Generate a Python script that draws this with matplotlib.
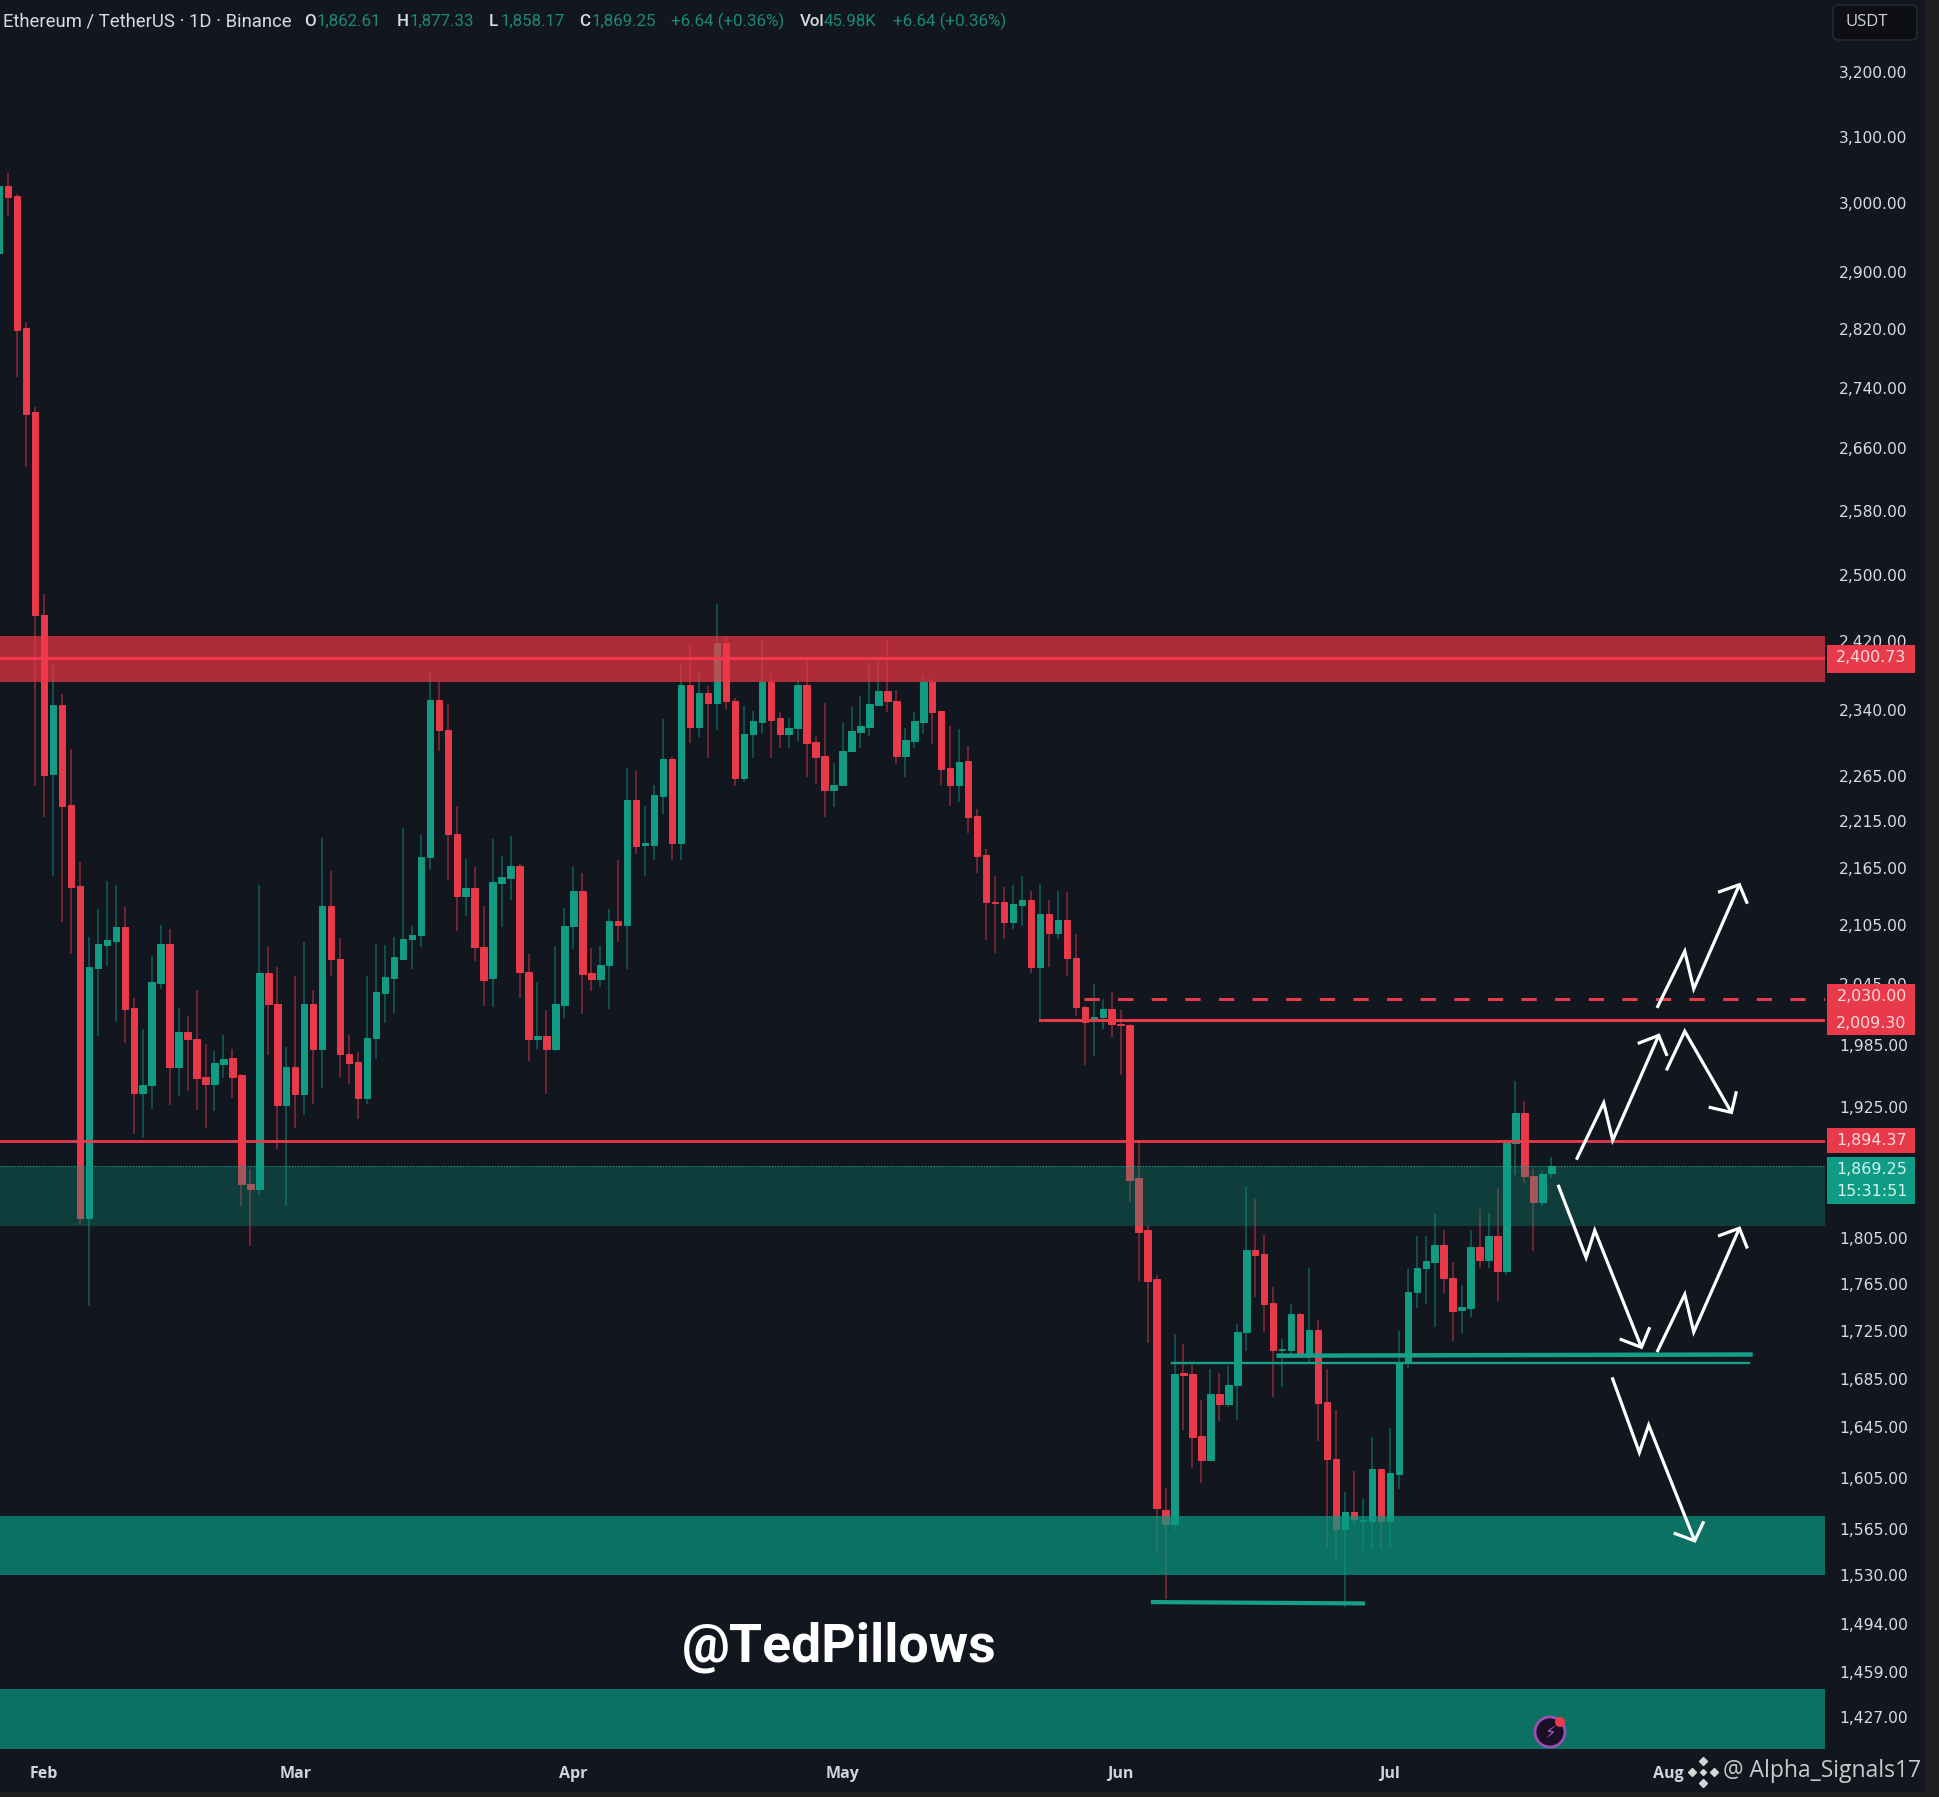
"""ETH/USDT daily candles with supply/demand zones and scenario arrows."""

import matplotlib
matplotlib.use('Agg')
import matplotlib.pyplot as plt
from matplotlib.patches import Rectangle, FancyBboxPatch, Circle
from matplotlib.transforms import ScaledTranslation

W, H = 1940, 1797
BG = '#12161f'
RED = '#e93a4b'
GREEN = '#129c84'

# daily candles, index 5 is Feb 1
opens = [2926, 3024, 3009, 2820, 2706, 2450, 2266, 2344, 2232, 2145, 1822, 2060, 2083, 2087, 2102, 2020, 1937, 1945, 2045, 2084,
         1962, 1996, 1989, 1953, 1946, 1965, 1971, 1955, 1853, 1848, 2055, 2024, 1926, 1962, 1936, 2024, 1980, 2124, 2069, 1975,
         1967, 1933, 1990, 2035, 2050, 2069, 2090, 2094, 2175, 2350, 2315, 2200, 2134, 2142, 2081, 2050, 2148, 2153, 2166, 2056,
         1989, 1992, 1980, 2023, 2103, 2139, 2055, 2049, 2063, 2108, 2104, 2237, 2188, 2188, 2241, 2282, 2190, 2367, 2319, 2358,
         2346, 2416, 2349, 2261, 2311, 2324, 2371, 2329, 2311, 2317, 2367, 2302, 2286, 2248, 2254, 2292, 2313, 2319, 2344, 2360,
         2349, 2286, 2303, 2324, 2370, 2337, 2272, 2254, 2280, 2220, 2178, 2128, 2128, 2107, 2125, 2130, 2061, 2115, 2096, 2109,
         2070, 2021, 2007, 2011, 2019, 2004, 2003, 1858, 1811, 1768, 1579, 1568, 1689, 1688, 1637, 1618, 1671, 1663, 1679, 1723,
         1794, 1790, 1748, 1708, 1708, 1738, 1704, 1725, 1665, 1619, 1564, 1577, 1570, 1570, 1611, 1570, 1607, 1698, 1757, 1778,
         1783, 1798, 1769, 1742, 1743, 1796, 1785, 1806, 1775, 1890, 1918, 1860, 1836, 1862.61]
highs = [3040, 3043, 3012, 2828, 2713, 2475, 2390, 2356, 2294, 2170, 2092, 2120, 2150, 2146, 2123, 2030, 1999, 2072, 2104, 2100,
         2020, 2012, 2038, 1985, 1978, 1993, 1980, 1956, 1866, 2146, 2081, 2061, 1982, 2052, 2086, 2038, 2196, 2160, 2091, 1993,
         1977, 2052, 2084, 2083, 2092, 2206, 2103, 2199, 2381, 2370, 2345, 2230, 2173, 2165, 2124, 2195, 2176, 2198, 2168, 2074,
         2046, 2018, 2082, 2122, 2165, 2158, 2080, 2082, 2120, 2172, 2272, 2269, 2231, 2254, 2328, 2285, 2393, 2414, 2382, 2366,
         2463, 2424, 2352, 2343, 2337, 2420, 2380, 2336, 2329, 2373, 2401, 2309, 2346, 2278, 2323, 2342, 2354, 2393, 2395, 2420,
         2361, 2318, 2336, 2380, 2374, 2337, 2320, 2316, 2297, 2227, 2184, 2155, 2144, 2146, 2155, 2139, 2147, 2130, 2139, 2138,
         2095, 2022, 2044, 2029, 2036, 2018, 2004, 1891, 1816, 1772, 1596, 1721, 1713, 1695, 1666, 1692, 1689, 1694, 1730, 1850,
         1839, 1807, 1761, 1717, 1747, 1739, 1778, 1733, 1692, 1658, 1593, 1609, 1587, 1636, 1611, 1644, 1724, 1777, 1806, 1806,
         1826, 1811, 1783, 1763, 1811, 1830, 1827, 1849, 1891, 1949, 1930, 1866, 1865, 1877.33]
lows = [2920, 2980, 2753, 2634, 2252, 2218, 2155, 2107, 2074, 1816, 1745, 1992, 2062, 2006, 1986, 1899, 1895, 1922, 2039, 1926,
        1935, 1939, 1921, 1904, 1920, 1952, 1933, 1833, 1797, 1843, 1974, 1885, 1833, 1904, 1917, 1927, 1942, 2052, 1953, 1946,
        1913, 1927, 1970, 2005, 2014, 2069, 2059, 2081, 2162, 2291, 2151, 2098, 2113, 2067, 2022, 2021, 2102, 2130, 2030, 1968,
        1980, 1936, 1978, 2010, 2079, 2014, 2037, 2041, 2019, 2086, 2059, 2179, 2155, 2172, 2222, 2172, 2172, 2301, 2307, 2284,
        2315, 2339, 2252, 2257, 2284, 2311, 2284, 2295, 2295, 2302, 2262, 2255, 2219, 2229, 2254, 2291, 2295, 2308, 2343, 2336,
        2277, 2262, 2295, 2311, 2299, 2254, 2231, 2235, 2201, 2158, 2088, 2075, 2090, 2100, 2103, 2055, 2006, 2061, 2090, 2052,
        2012, 1964, 1973, 1999, 1991, 1955, 1836, 1767, 1714, 1545, 1511, 1563, 1642, 1612, 1600, 1618, 1649, 1661, 1650, 1707,
        1753, 1723, 1669, 1677, 1704, 1704, 1698, 1633, 1550, 1540, 1505, 1567, 1547, 1549, 1549, 1550, 1595, 1693, 1743, 1747,
        1727, 1756, 1715, 1721, 1736, 1778, 1778, 1749, 1772, 1861, 1854, 1793, 1833, 1858.17]
closes = [3024, 3007, 2818, 2704, 2450, 2265, 2344, 2231, 2144, 1822, 2061, 2084, 2088, 2102, 2019, 1937, 1945, 2046, 2084, 1962,
          1996, 1989, 1952, 1946, 1966, 1970, 1953, 1853, 1848, 2055, 2024, 1926, 1962, 1936, 2024, 1980, 2124, 2069, 1975, 1966,
          1933, 1990, 2036, 2051, 2071, 2090, 2094, 2175, 2350, 2315, 2200, 2134, 2142, 2081, 2048, 2149, 2154, 2166, 2056, 1989,
          1992, 1980, 2024, 2103, 2139, 2054, 2049, 2063, 2108, 2104, 2237, 2187, 2190, 2242, 2282, 2190, 2367, 2319, 2358, 2346,
          2416, 2348, 2261, 2311, 2325, 2371, 2327, 2311, 2318, 2367, 2301, 2285, 2248, 2254, 2292, 2314, 2320, 2345, 2360, 2348,
          2286, 2304, 2325, 2370, 2336, 2271, 2254, 2279, 2219, 2176, 2128, 2127, 2107, 2126, 2130, 2061, 2115, 2096, 2109, 2070,
          2021, 2006, 2011, 2019, 2004, 2003, 1856, 1810, 1767, 1580, 1568, 1688, 1687, 1636, 1618, 1671, 1663, 1679, 1723, 1794,
          1789, 1747, 1708, 1709, 1738, 1705, 1725, 1664, 1619, 1564, 1577, 1572, 1571, 1611, 1570, 1608, 1698, 1757, 1778, 1784,
          1798, 1769, 1741, 1744, 1796, 1785, 1806, 1775, 1890, 1918, 1860, 1836, 1862, 1869.25]

# zones and levels (price), levels as they sit on the picture
red_zone = (2370, 2425)
mid_zone = (1815, 1869)
low_zone = (1529, 1574)
bottom_zone = (1404, 1446)
level_2400 = 2398
level_1894 = 1892.5
level_2009 = 2008
level_2030 = 2029

price_ticks = [3200, 3100, 3000, 2900, 2820, 2740, 2660, 2580, 2500, 2420, 2340, 2265, 2215, 2165, 2105, 2045,
               1985, 1925, 1865, 1805, 1765, 1725, 1685, 1645, 1605, 1565, 1530, 1494, 1459, 1427]
month_ticks = [5, 33, 64, 94, 125, 155, 186]
month_labels = ['Feb', 'Mar', 'Apr', 'May', 'Jun', 'Jul', 'Aug']

# scenario arrows: (candle index, price) for path, then head
arrows = [
    ([184.78, 187.87, 188.87, 193.96], [2020, 2077, 2039, 2146], [191.58, 193.96, 194.85], [2138, 2146, 2126]),
    ([175.79, 178.84, 179.84, 184.97], [1875, 1928, 1893, 1993], [182.63, 184.97, 185.9], [1985, 1993, 1973]),
    ([185.82, 187.87, 193.07], [1959, 1997, 1919], [190.54, 193.07, 193.63], [1924, 1919, 1939]),
    ([173.75, 176.87, 177.84, 183.04], [1852, 1787, 1811, 1710], [180.62, 183.04, 183.97], [1717, 1710, 1727]),
    ([184.78, 187.87, 188.87, 193.96], [1706, 1755, 1723, 1813], [191.58, 193.96, 194.85], [1806, 1813, 1795]),
    ([179.77, 182.81, 183.85, 188.98], [1685, 1624, 1646, 1555], [186.64, 188.98, 189.99], [1561, 1555, 1570]),
]

fig = plt.figure(figsize=(W / 100, H / 100), dpi=100, facecolor=BG)
ax = fig.add_axes([0, (H - 1749) / H, 1825 / W, 1749 / H], facecolor=BG)
ax.set_yscale('log')
ax.set_xlim(0.095, 203.5)
ax.set_ylim(1404, 3313)

# candles
days = list(range(len(opens)))
colors = [GREEN if c >= o else RED for o, c in zip(opens, closes)]
ax.vlines(days, lows, highs, colors=colors, linewidth=1.1, alpha=0.55, zorder=2)
ax.bar(days, [abs(c - o) for o, c in zip(opens, closes)], bottom=[min(o, c) for o, c in zip(opens, closes)],
       width=0.72, color=colors, edgecolor=colors, linewidth=0.7, zorder=2.2)

# zones sit over the candles
ax.axhspan(*red_zone, color='#f23645', alpha=0.7, lw=0, zorder=3)
ax.axhspan(*mid_zone, color='#089981', alpha=0.3, lw=0, zorder=3)
ax.axhspan(*low_zone, color='#089981', alpha=0.7, lw=0, zorder=3)
ax.axhspan(*bottom_zone, color='#089981', alpha=0.7, lw=0, zorder=3)

# levels
ax.axhline(level_2400, color='#f5364c', lw=2.2, zorder=4)
ax.axhline(level_1894, color=RED, lw=2, zorder=4)
ax.axhline(closes[-1], color='#1aa08a', lw=0.8, ls=':', zorder=4)
ax.plot([116, 204], [level_2009, level_2009], color=RED, lw=2.2, zorder=4)
ax.plot([120.9, 204], [level_2030, level_2030], color=RED, lw=2.2, dashes=(5, 6), zorder=4)
ax.plot([130.7, 195], [1697, 1697], color='#16a088', lw=1.7, zorder=4)
ax.plot([142.6, 195.2], [1703, 1704], color='#16a088', lw=3.2, zorder=4)
ax.plot([128.6, 152], [1509, 1508], color='#16a088', lw=3, zorder=4)

for xs, ys, hx, hy in arrows:
    ax.plot(xs, ys, color='white', lw=2.3, solid_joinstyle='miter', solid_capstyle='butt', zorder=5)
    ax.plot(hx, hy, color='white', lw=2.3, solid_joinstyle='miter', solid_capstyle='butt', zorder=5)

ax.text(93.6, 1476, '@TedPillows', color='white', fontsize=38.5, fontweight='bold', family='Roboto',
        ha='center', va='center', zorder=6)

# axes
for side in ax.spines.values():
    side.set_visible(False)
ax.yaxis.tick_right()
ax.set_yticks(price_ticks)
ax.set_yticklabels([f'{p:,.2f}' for p in price_ticks], fontsize=11.2, color='#d8dbe3', family='DejaVu Sans')
ax.minorticks_off()
ax.tick_params(axis='y', length=0, pad=10)
nudge = ScaledTranslation(0, -1.2 / 100, fig.dpi_scale_trans)
for lab in ax.get_yticklabels():
    lab.set_transform(lab.get_transform() + nudge)
ax.set_xticks(month_ticks)
ax.set_xticklabels(month_labels, fontsize=11.5, color='#d1d4dc', fontweight='bold', family='Open Sans')
ax.tick_params(axis='x', length=0, pad=12)

# price labels on the scale
ytrans = ax.get_yaxis_transform()
def price_box(top, bottom, color):
    ax.add_patch(Rectangle((1.001, bottom), 0.0485, top - bottom, transform=ytrans, facecolor=color,
                           edgecolor='none', clip_on=False, zorder=7))

def price_label(price, text, color='#f6d9dc'):
    ax.text(1.0255, price, text, transform=ytrans, color=color, fontsize=11.4, family='DejaVu Sans',
            ha='center', va='center', clip_on=False, zorder=8)

price_box(2414, 2381, RED)
price_box(2044, 1993, RED)
price_box(1904, 1881, RED)
price_box(1877, 1835, '#0e9c84')
price_label(2399, '2,400.73')
price_label(2031, '2,030.00')
price_label(2005, '2,009.30')
price_label(1892.5, '1,894.37')
price_label(1866, '1,869.25', '#d6f3ec')
price_label(1846, '15:31:51', '#d6f3ec')

# frame strips of the screenshot
fig.add_artist(Rectangle((1925 / W, 0), 15 / W, 1, transform=fig.transFigure, facecolor='#1f1f20', edgecolor='none'))
fig.add_artist(Rectangle((0, 0), 1, 5 / H, transform=fig.transFigure, facecolor='#1f1f20', edgecolor='none'))

# header
def fig_text(x, y, s, **kw):
    return fig.text(x / W, 1 - y / H, s, ha=kw.pop('ha', 'left'), va='center', **kw)

header = [
    (304, 'O', '#d8dbe3'), (317, '1,862.61', '#1b8a78'),
    (397, 'H', '#d8dbe3'), (410, '1,877.33', '#1b8a78'), (489, 'L', '#d8dbe3'), (501, '1,858.17', '#1b8a78'),
    (579, 'C', '#d8dbe3'), (592, '1,869.25', '#1b8a78'), (671, '+6.64 (+0.36%)', '#1b8a78'),
    (800, 'Vol', '#d8dbe3'), (824, '45.98K', '#1b8a78'), (893, '+6.64 (+0.36%)', '#1b8a78'),
]
fig_text(3, 21, 'Ethereum / TetherUS · 1D · Binance', color='#d8dbe3', fontsize=13.3, family='Roboto')
for x, s, c in header:
    fig_text(x, 21, s, color=c, fontsize=12.2, family='Roboto', fontweight='medium' if c == '#d8dbe3' else 'normal')

fig.add_artist(FancyBboxPatch((1833 / W, 1 - 40 / H), 84 / W, 35 / H, boxstyle='round,pad=0,rounding_size=0.003',
                              transform=fig.transFigure, facecolor='#0d0f15', edgecolor='#2a2e39', lw=1))
fig_text(1867, 22, 'USDT', color='#d1d4dc', fontsize=12, family='Open Sans', ha='center')

# watermark with exchange mark
fig_text(1723, 1771, '@ Alpha_Signals17', color='#c9cacb', fontsize=16.5, family='Open Sans')
mark = fig.add_axes([0, 0, 1, 1], facecolor='none')
mark.set_xlim(0, W)
mark.set_ylim(H, 0)
mark.axis('off')
mark.plot([1703, 1703, 1692, 1714], [1761, 1783, 1772, 1772], 'D', color='#d5d5d5', ms=4.2)
mark.plot([1703], [1772], 'D', color='#d5d5d5', ms=3)

# alert icon
mark.add_patch(Circle((1550, 1732), 15, facecolor='#1a0f24', edgecolor='#9a4fb5', lw=2))
mark.add_patch(Circle((1560, 1722), 5, facecolor='#ef3a4c', edgecolor='none'))
mark.text(1550, 1733, '\u26a1', color='#b05cd0', fontsize=12, ha='center', va='center', family='DejaVu Sans')

fig.savefig('out.png', dpi=100, facecolor=BG)
